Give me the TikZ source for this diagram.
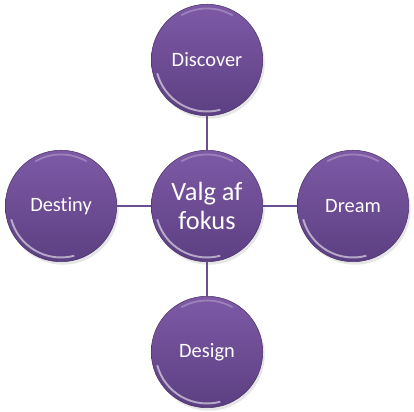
\documentclass[tikz,border=0pt]{standalone}
\usepackage{fontspec}
\setmainfont{Carlito}[Ligatures=NoCommon]
\usetikzlibrary{shadows}

\definecolor{violetTop}{HTML}{7E5AA6}
\definecolor{violetBot}{HTML}{5C3F82}
\definecolor{violetLine}{HTML}{6C4E92}

\begin{document}
\begin{tikzpicture}[node distance = {29.2mm},
	main/.style = {circle, minimum size=22.3mm, inner sep=0pt, text=white,
		top color=violetTop, bottom color=violetBot, draw=violetBot!80!black, line width=0.3pt,
		drop shadow={shadow xshift=0.4mm, shadow yshift=-0.6mm, opacity=0.2},
		font=\fontsize{11.6}{13}\selectfont,
		path picture={
			\draw[white, opacity=0.55, line width=1.1pt]
				(path picture bounding box.center) ++(195:10.3mm) arc[start angle=195, end angle=285, radius=10.3mm];
			\draw[white, opacity=0.25, line width=1pt]
				(path picture bounding box.center) ++(60:10.3mm) arc[start angle=60, end angle=120, radius=10.3mm];
		}},
	link/.style = {draw=violetLine, line width=1.1pt}]
	\useasboundingbox (0,0) rectangle (8.28,8.24);
	\node[main, font=\fontsize{15}{17}\selectfont, align=center] (0) at (4.14,4.12) {Valg af\\fokus};
	\node[main] (1) [above of=0] {Discover};
	\node[main] (2) [right of=0] {Dream};
	\node[main] (3) [below of=0] {Design};
	\node[main] (4) [left of=0] {Destiny};
	\draw[link] (0) -- (1);
	\draw[link] (0) -- (2);
	\draw[link] (0) -- (3);
	\draw[link] (0) -- (4);
\end{tikzpicture}
\end{document}
